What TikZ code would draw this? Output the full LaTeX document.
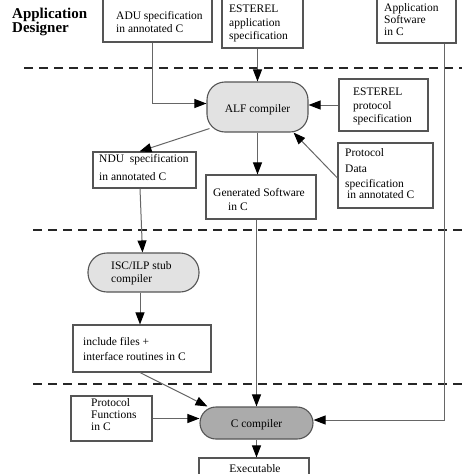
\documentclass[tikz,border=0pt]{standalone}
\usepackage{fontspec}
\setmainfont{Liberation Serif}
\usetikzlibrary{arrows.meta}
\definecolor{linegray}{HTML}{666666}
\definecolor{boxgray}{HTML}{555555}
\definecolor{lightfill}{HTML}{E2E2E2}
\definecolor{darkfill}{HTML}{ABABAB}
\begin{document}
\begin{tikzpicture}[x=1pt,y=-1pt,
  box/.style={draw=boxgray,line width=1.1pt,rectangle,inner sep=0pt},
  comp/.style={draw=boxgray,line width=1.1pt,rectangle,rounded corners=18pt,inner sep=0pt,fill=lightfill},
  txt/.style={inner sep=0pt,align=left,font=\fontsize{11.5}{13}\selectfont},
  conn/.style={draw=linegray,line width=1pt,-{Triangle[length=12pt,width=9pt,color=black]}},
  sep/.style={draw=black!85,line width=1.4pt,dash pattern=on 9pt off 6pt}]
\useasboundingbox (0,0) rectangle (474,474);
\begin{scope}
\clip (0,0) rectangle (474,474);
% title
\node[txt,anchor=west,font=\bfseries\fontsize{15}{14}\selectfont] (title) at (12,22) {Application\\Designer};
% top boxes
\node[box,minimum width=109pt,minimum height=50pt] (adu) at (157.5,17) {};
\node[txt,anchor=west] (adut) at (116,22) {ADU specification\\in annotated C};
\node[box,minimum width=81pt,minimum height=56pt] (estapp) at (262.5,20) {};
\node[txt,anchor=west,font=\fontsize{11.5}{13.5}\selectfont] (estappt) at (229,23.5) {ESTEREL\\application\\specification};
\node[box,minimum width=79pt,minimum height=51pt] (appsw) at (416.5,17.5) {};
\node[txt,anchor=west,font=\fontsize{11.5}{12}\selectfont] (appswt) at (384,19.5) {Application\\Software\\in C};
% separators
\coordinate (s1a) at (24,68); \coordinate (s1b) at (462,68);
\coordinate (s2a) at (33,230); \coordinate (s2b) at (462,230);
\coordinate (s3a) at (33,384); \coordinate (s3b) at (462,384);
\draw[sep] (s1a) -- (s1b);
\draw[sep] (s2a) -- (s2b);
\draw[sep] (s3a) -- (s3b);
% ALF compiler
\node[comp,minimum width=101pt,minimum height=50pt] (alf) at (257.5,107) {};
\node[txt] (alft) at (257.5,110) {ALF compiler};
% ESTEREL protocol
\node[box,minimum width=89pt,minimum height=52pt] (estprot) at (383.5,105) {};
\node[txt,anchor=west,font=\fontsize{11.5}{13.5}\selectfont] (estprott) at (353,106.5) {ESTEREL\\protocol\\specification};
% Protocol data
\node[box,minimum width=95pt,minimum height=65pt] (pdata) at (385.5,175.5) {};
\node[txt,anchor=west] (pdatat) at (345,174) {Protocol\\[2.5pt]Data\\[2pt]specification\\[-1.5pt]\hspace{2pt}in annotated C};
% NDU
\node[box,minimum width=103pt,minimum height=36pt] (ndu) at (144.5,170) {};
\node[txt,anchor=west,font=\fontsize{11.5}{18}\selectfont] (ndut) at (99,167.5) {NDU\ \ specification\\in annotated C};
% Generated software
\node[box,minimum width=110pt,minimum height=44pt] (gensw) at (261,197) {};
\node[txt,anchor=west,font=\fontsize{11.5}{14}\selectfont] (genswt) at (213,199.5) {Generated Software\\\hspace{15pt}in C};
% ISC/ILP
\node[comp,minimum width=111pt,minimum height=39pt,rounded corners=19pt] (isc) at (143.5,272.5) {};
\node[txt,anchor=west] (isct) at (111,273.5) {ISC/ILP stub\\compiler};
% include files
\node[box,minimum width=138pt,minimum height=47pt] (incl) at (142,348.5) {};
\node[txt,anchor=west,font=\fontsize{11.5}{15}\selectfont] (inclt) at (83,349.5) {include files +\\interface routines in C};
% protocol functions
\node[box,minimum width=81pt,minimum height=45pt] (pfn) at (111.5,418.5) {};
\node[txt,anchor=west,font=\fontsize{11.5}{12}\selectfont] (pfnt) at (91,415) {Protocol\\Functions\\in C};
% C compiler
\node[comp,minimum width=113pt,minimum height=32pt,rounded corners=16pt,fill=darkfill] (ccomp) at (256.5,423) {};
\node[txt] (ccompt) at (256.5,424.5) {C compiler};
% executable
\node[box,minimum width=110pt,minimum height=40pt] (exe) at (254,478) {};
\node[txt] (exet) at (255,469) {Executable};
\end{scope}
% connectors
\draw[conn] ([xshift=-5.5pt]adu.south) |- ([yshift=3.5pt]alf.west);
\draw[conn] (alf.north |- estapp.south) -- (alf.north);
\draw[conn] (estprot.west) -- (estprot.west -| alf.east);
\draw[conn] ([yshift=-2.5pt]pdata.west) -- ([xshift=-15pt]alf.south east);
\draw[conn] ([xshift=3pt,yshift=4pt]alf.south west) -- ([xshift=-5pt]ndu.north);
\draw[conn] (alf.south) -- (alf.south |- gensw.north);
\draw[conn] (ccomp.north |- gensw.south) -- (ccomp.north);
\draw[conn] ([xshift=-4.5pt]ndu.south) -- ([xshift=-1pt]isc.north);
\draw[conn] ([xshift=-3.5pt]isc.south) -- ([xshift=-2pt]incl.north);
\draw[conn] ([xshift=-2pt]incl.south) -- ([xshift=8pt]ccomp.north west);
\draw[conn] (pfn.east) -- (pfn.east -| ccomp.west);
\draw[conn] ([xshift=27.5pt]appsw.south) |- ([yshift=3pt]ccomp.east);
\draw[conn] (ccomp.south) -- (ccomp.south |- exe.north);
\end{tikzpicture}
\end{document}
